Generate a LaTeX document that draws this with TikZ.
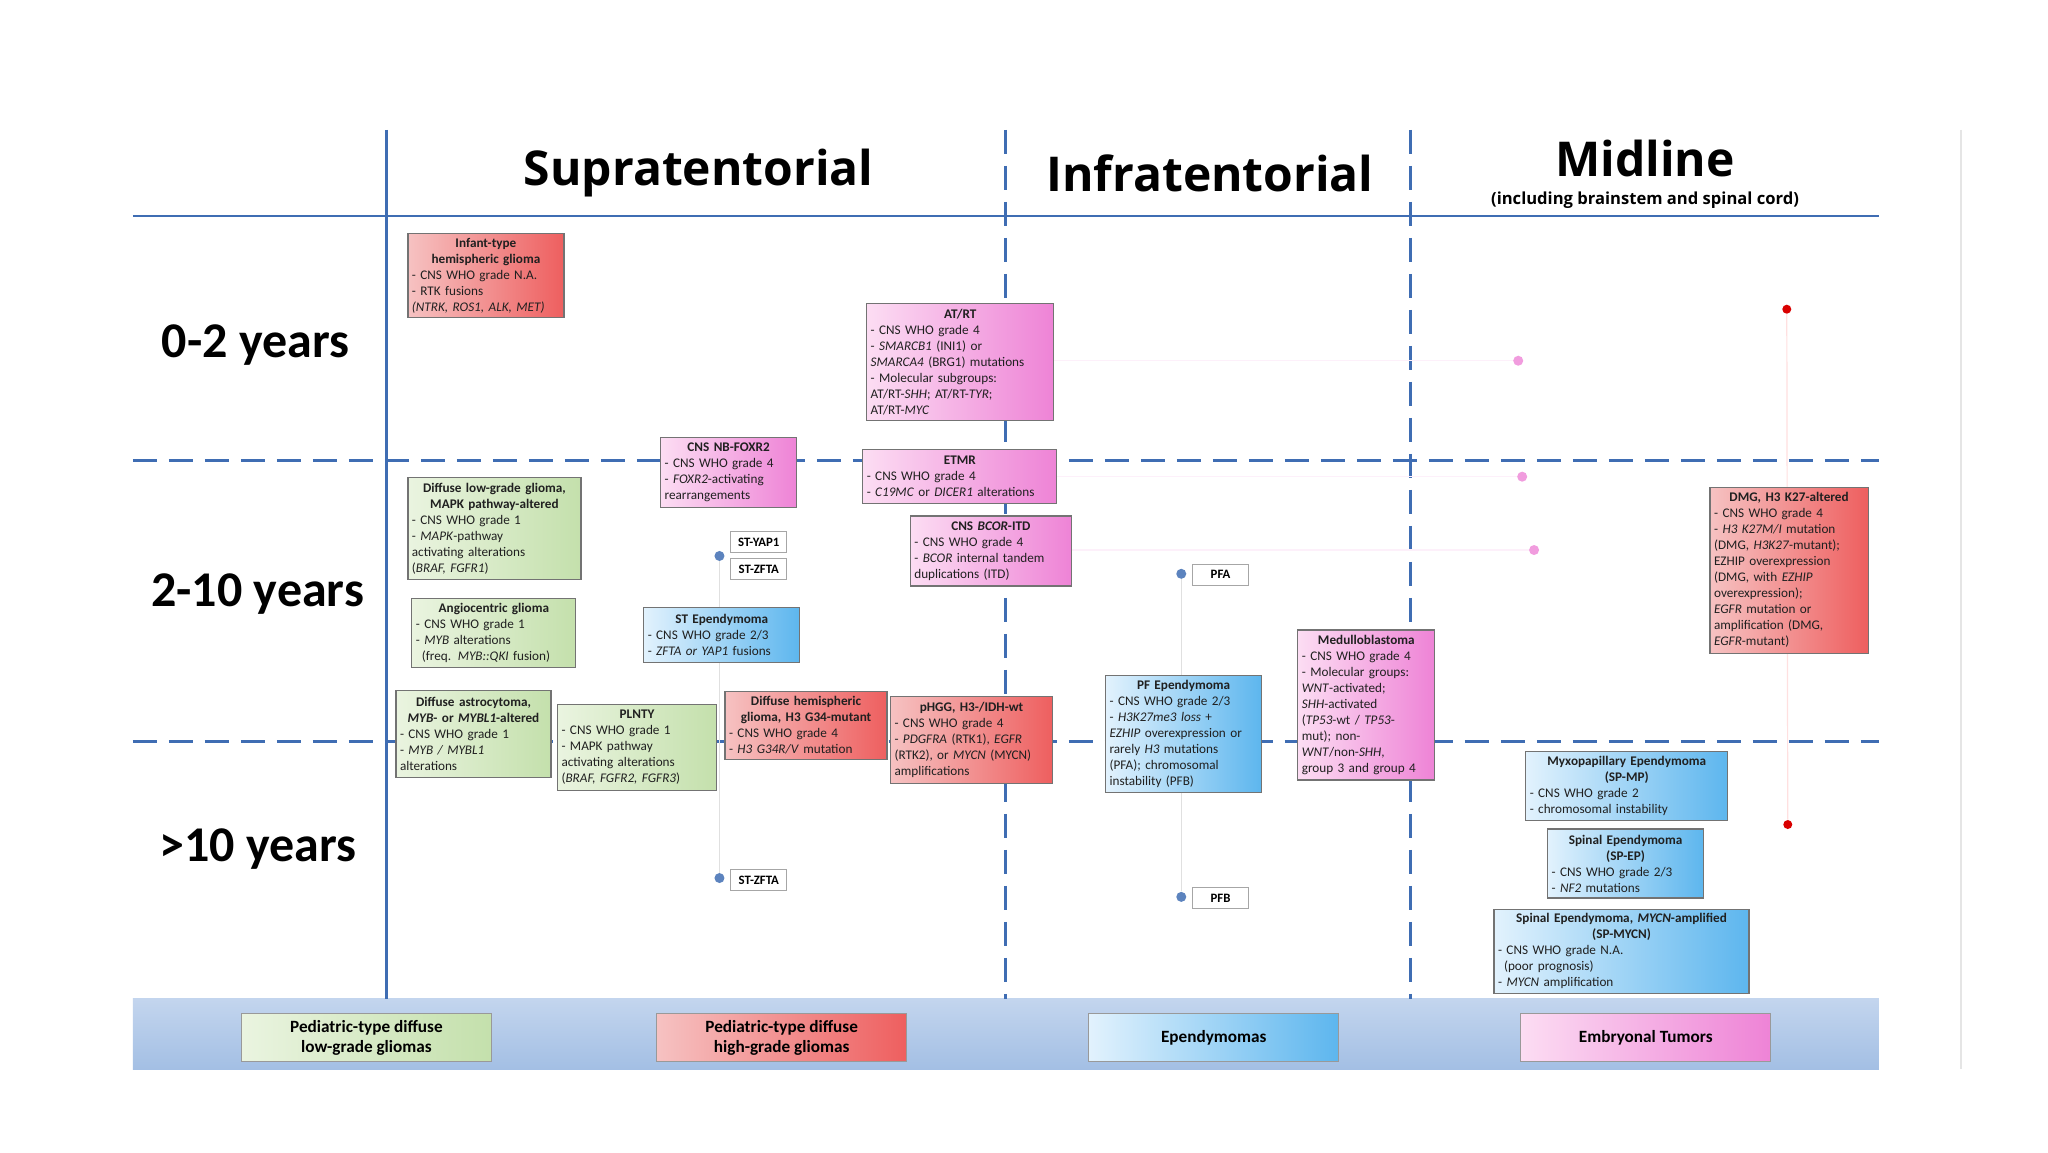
\documentclass[tikz,border=0pt]{standalone}
\usepackage{fontspec}
\setmainfont{Carlito}
\newfontfamily\hdfont{Open Sans}
\usetikzlibrary{positioning}
\definecolor{lnblue}{HTML}{3F6DB3}
\definecolor{rA}{HTML}{F6C2C2}\definecolor{rB}{HTML}{EE5F5F}
\definecolor{gA}{HTML}{EAF4E0}\definecolor{gB}{HTML}{C4E0AC}
\definecolor{bA}{HTML}{E2F2FD}\definecolor{bB}{HTML}{5DB6EE}
\definecolor{pA}{HTML}{FCDDF3}\definecolor{pB}{HTML}{EE83D6}
\definecolor{bandA}{HTML}{C3D5EE}\definecolor{bandB}{HTML}{A3BFE4}
\definecolor{txt}{HTML}{202020}
\newcommand\ttl[1]{{\centering\bfseries #1\par}}
\tikzset{
  bx/.style={draw=black!55, line width=0.6pt, anchor=north west, inner sep=2pt, align=left,
    font=\fontsize{6.6}{8}\selectfont, text=txt},
  redbx/.style={bx, left color=rA, right color=rB},
  grnbx/.style={bx, left color=gA, right color=gB},
  blubx/.style={bx, left color=bA, right color=bB},
  pnkbx/.style={bx, left color=pA, right color=pB},
  tag/.style={draw=black!35, fill=white, font=\bfseries\fontsize{6.4}{7}\selectfont, minimum width=28pt, minimum height=10.5pt, inner sep=1pt, anchor=north west},
  bdot/.style={circle, fill=lnblue!85, inner sep=0pt, minimum size=5pt},
  pdot/.style={circle, fill=pB!80, inner sep=0pt, minimum size=5pt},
  rdot/.style={circle, fill=red!85!black, inner sep=0pt, minimum size=4.5pt},
  gridln/.style={draw=lnblue, line width=1.5pt, dash pattern=on 12pt off 6pt},
  solidln/.style={draw=lnblue, line width=1.4pt},
  legbx/.style={draw=black!40, line width=0.6pt, font=\bfseries\fontsize{8.6}{10}\selectfont, align=center, minimum width=125pt, minimum height=24pt, anchor=north west, inner sep=1pt},
  hd/.style={font=\hdfont\bfseries\fontsize{24}{28}\selectfont},
  age/.style={font=\bfseries\fontsize{25}{28}\selectfont}
}
\begin{document}
\begin{tikzpicture}[x=0.4955pt,y=-0.4955pt]
\useasboundingbox (0,0) rectangle (2066.6,1162.5);
\fill[white] (0,0) rectangle (2066.6,1162.5);
% bottom band
\shade[top color=bandA, bottom color=bandB] (134,1008) rectangle (1896,1079);
\draw[black!10, line width=0.8pt] (1979,131) -- (1979,1079);
% grid lines
\draw[gridln] (134,465) -- (1896,465);
\draw[gridln] (134,748) -- (1896,748);
\draw[gridln] (1015,131) -- (1015,1008);
\draw[gridln] (1423,131) -- (1423,1008);
\draw[solidln] (390,131) -- (390,1008);
\draw[solidln] (134,218) -- (1896,218);
% headers
\node[hd] (hsup) at (705,175) {Supratentorial};
\node[hd] (hinf) at (1221,175) {Infratentorial};
\node[hd] (hmid) at (1660,160) {Midline};
\node[font=\hdfont\bfseries\fontsize{8.3}{10}\selectfont] (hsub) at (1660,202) {(including brainstem and spinal cord)};
\node[age] (a1) at (258,348) {0-2 years};
\node[age] (a2) at (260,599) {2-10 years};
\node[age] (a3) at (260,857) {>10 years};
% connectors (behind boxes)
\node[bdot] (d1) at (726,561) {};
\node[bdot] (d2) at (726,886) {};
\node[bdot] (d3) at (1192,579) {};
\node[bdot] (d4) at (1192,905) {};
\draw[black!12, line width=0.6pt] (d1) -- (d2);
\draw[black!12, line width=0.6pt] (d3) -- (d4);
\node[rdot] (r1) at (1803,312) {};
\node[rdot] (r2) at (1804,832) {};
\draw[red!12, line width=0.6pt] (r1) -- (r2);
\node[pdot] (p1) at (1532,364) {};
\node[pdot] (p2) at (1536,481) {};
\node[pdot] (p3) at (1548,555) {};
% boxes
\node[redbx, text width=74pt, minimum height=42pt] (infant) at (411,235) {\ttl{Infant-type\\hemispheric glioma}- CNS WHO grade N.A.\\- RTK fusions\\\textit{(NTRK, ROS1, ALK, MET)}};
\node[pnkbx, text width=89.5pt, minimum height=58.5pt] (atrt) at (874,306) {\ttl{AT/RT}- CNS WHO grade 4\\- \textit{SMARCB1} (INI1) or\\\textit{SMARCA4} (BRG1) mutations\\- Molecular subgroups:\\AT/RT-\textit{SHH}; AT/RT-\textit{TYR};\\AT/RT-\textit{MYC}};
\node[pnkbx, text width=64pt, minimum height=35pt] (foxr2) at (666,441) {\ttl{CNS NB-FOXR2}- CNS WHO grade 4\\- \textit{FOXR2}-activating\\rearrangements};
\node[pnkbx, text width=93pt, minimum height=27pt] (etmr) at (870,453) {\ttl{ETMR}- CNS WHO grade 4\\- \textit{C19MC} or \textit{DICER1} alterations};
\node[pnkbx, text width=76.5pt, minimum height=35pt] (bcor) at (918,520) {\ttl{CNS \textit{BCOR}-ITD}- CNS WHO grade 4\\- \textit{BCOR} internal tandem\\duplications (ITD)};
\node[grnbx, text width=82.5pt, minimum height=51pt] (dlgg) at (411,481) {\ttl{Diffuse low-grade glioma,\\MAPK pathway-altered}- CNS WHO grade 1\\- \textit{MAPK}-pathway\\activating alterations\\(\textit{BRAF, FGFR1})};
\node[grnbx, text width=78pt, minimum height=34.5pt] (angio) at (415,603) {\ttl{Angiocentric glioma}- CNS WHO grade 1\\- \textit{MYB} alterations\\\hspace*{3pt}(freq. \textit{MYB::QKI} fusion)};
\node[blubx, text width=74pt, minimum height=27.5pt] (stepn) at (649,612) {\ttl{ST Ependymoma}- CNS WHO grade 2/3\\- \textit{ZFTA or YAP1} fusions};
\node[grnbx, text width=73.5pt, minimum height=43.5pt] (da) at (399,696) {\ttl{Diffuse astrocytoma,\\\textit{MYB}- or \textit{MYBL1}-altered}- CNS WHO grade 1\\- \textit{MYB / MYBL1}\\alterations};
\node[grnbx, text width=75.5pt, minimum height=43pt] (plnty) at (562,710) {\ttl{PLNTY}- CNS WHO grade 1\\- MAPK pathway\\activating alterations\\(\textit{BRAF, FGFR2, FGFR3})};
\node[redbx, text width=77pt, minimum height=34pt] (dhg) at (731,697) {\ttl{Diffuse hemispheric\\glioma, H3 G34-mutant}- CNS WHO grade 4\\- \textit{H3 G34R/V} mutation};
\node[redbx, text width=77pt, minimum height=43.5pt] (phgg) at (898,702) {\ttl{pHGG, H3-/IDH-wt}- CNS WHO grade 4\\- \textit{PDGFRA} (RTK1), \textit{EGFR}\\(RTK2), or \textit{MYCN} (MYCN)\\amplifications};
\node[blubx, text width=74pt, minimum height=58.5pt] (pfep) at (1115,681) {\ttl{PF Ependymoma}- CNS WHO grade 2/3\\- \textit{H3K27me3 loss} +\\\textit{EZHIP} overexpression or\\rarely \textit{H3} mutations\\(PFA); chromosomal\\instability (PFB)};
\node[pnkbx, text width=64.5pt, minimum height=75pt] (medullo) at (1309,635) {\ttl{Medulloblastoma}- CNS WHO grade 4\\- Molecular groups:\\\textit{WNT}-activated;\\\textit{SHH}-activated\\(\textit{TP53}-wt / \textit{TP53}-\\mut); non-\\\textit{WNT}/non-\textit{SHH},\\group 3 and group 4};
\node[redbx, text width=75pt, minimum height=83pt] (dmg) at (1725,491) {\ttl{DMG, H3 K27-altered}- CNS WHO grade 4\\- \textit{H3 K27M/I} mutation\\(DMG, \textit{H3K27}-mutant);\\EZHIP overexpression\\(DMG, with \textit{EZHIP}\\overexpression);\\\textit{EGFR} mutation or\\amplification (DMG,\\\textit{EGFR}-mutant)};
\node[blubx, text width=97pt, minimum height=34.5pt] (myxo) at (1539,758) {\ttl{Myxopapillary Ependymoma\\(SP-MP)}- CNS WHO grade 2\\- chromosomal instability};
\node[blubx, text width=74pt, minimum height=34.5pt] (spep) at (1561,836) {\ttl{Spinal Ependymoma\\(SP-EP)}- CNS WHO grade 2/3\\- \textit{NF2} mutations};
\node[blubx, text width=123.5pt, minimum height=42pt] (spmycn) at (1507,917) {\ttl{Spinal Ependymoma, \textit{MYCN}-amplified\\(SP-MYCN)}- CNS WHO grade N.A.\\\hspace*{3pt}(poor prognosis)\\- \textit{MYCN} amplification};
% tags
\node[tag] (tyap) at (737,536) {ST-YAP1};
\node[tag] (tzfta) at (737,563) {ST-ZFTA};
\node[tag] (tzfta2) at (737,877) {ST-ZFTA};
\node[tag] (tpfa) at (1203,569) {PFA};
\node[tag] (tpfb) at (1203,895) {PFB};
% pink connectors
\draw[pB!12, line width=0.6pt] (atrt.east |- p1) -- (p1);
\draw[pB!12, line width=0.6pt] (etmr.east |- p2) -- (p2);
\draw[pB!12, line width=0.6pt] (bcor.east |- p3) -- (p3);
% legend
\node[legbx, left color=gA, right color=gB] (lg1) at (243,1022) {Pediatric-type diffuse\\low-grade gliomas};
\node[legbx, left color=rA, right color=rB] (lg2) at (662,1022) {Pediatric-type diffuse\\high-grade gliomas};
\node[legbx, left color=bA, right color=bB] (lg3) at (1098,1022) {Ependymomas};
\node[legbx, left color=pA, right color=pB] (lg4) at (1534,1022) {Embryonal Tumors};
\end{tikzpicture}
\end{document}
